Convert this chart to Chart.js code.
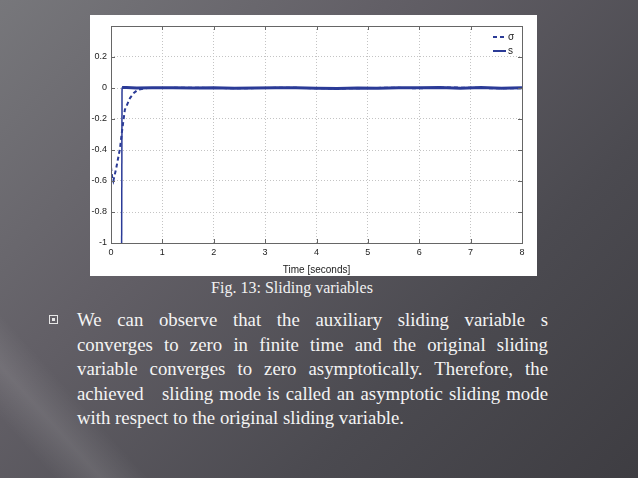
<!DOCTYPE html>
<html><head><meta charset="utf-8">
<script src="https://cdn.jsdelivr.net/npm/chart.js@4.4.1/dist/chart.umd.min.js"></script>
<style>
html,body{margin:0;padding:0;width:638px;height:478px;overflow:hidden;}
body{position:relative;background:linear-gradient(135deg,#77777b 0%,#625f66 35%,#4b4a50 70%,#3e3d42 100%);}
#streak{position:absolute;left:-120px;top:180px;width:520px;height:70px;background:linear-gradient(180deg,rgba(255,255,255,0) 0%,rgba(255,255,255,0.10) 50%,rgba(255,255,255,0) 100%);transform:rotate(48deg);transform-origin:0 0;}
#panel{position:absolute;left:90px;top:15px;width:447px;height:261px;background:#fff;}
#panel canvas{display:block;}
#cap{position:absolute;left:0;width:584px;top:279px;text-align:center;font-family:"Liberation Serif","Times New Roman",serif;font-size:16px;color:#f2f2f2;}
#bul{position:absolute;left:49px;top:315px;width:7px;height:7px;border:1px solid #e6e6e6;}
#bul i{position:absolute;left:2px;top:2px;width:3px;height:3px;background:#e6e6e6;}
#txt{position:absolute;left:77px;top:308px;width:471px;font-family:"Liberation Serif","Times New Roman",serif;font-size:18.8px;line-height:24.5px;color:#f4f4f4;}
#txt div{text-align:justify;text-align-last:justify;white-space:nowrap;}
#txt div.last{text-align-last:left;}
</style></head>
<body>
<div id="streak"></div>
<div id="panel"><canvas id="c" width="447" height="261"></canvas></div>
<div id="cap">Fig. 13: Sliding variables</div>
<div id="bul"><i></i></div>
<div id="txt">
<div>We can observe that the auxiliary sliding variable s</div>
<div>converges to zero in finite time and the original sliding</div>
<div>variable converges to zero asymptotically. Therefore, the</div>
<div>achieved&nbsp;&nbsp; sliding mode is called an asymptotic sliding mode</div>
<div class="last">with respect to the original sliding variable.</div>
</div>
<script>
// ---- data ----
const sigmaTime = [0, 0.02, 0.045, 0.1, 0.175, 0.21, 0.27, 0.37, 0.45, 0.53, 0.7, 1.0, 1.5, 2.0, 2.5, 3.0, 3.5, 4.0, 4.5, 5.0, 5.5, 6.0, 6.5, 7.0, 7.5, 8.0];
const sigmaVals = [-0.51, -0.57, -0.60, -0.52, -0.39, -0.29, -0.14, -0.065, -0.03, -0.01, 0.0, 0.0, 0.002, 0.0, -0.002, 0.0, 0.002, -0.002, -0.003, 0.0, 0.002, -0.002, 0.003, 0.002, -0.002, -0.001];
const sTime = [0.205, 0.215, 0.3, 0.5, 0.8, 1.2, 1.6, 2.0, 2.4, 2.8, 3.2, 3.6, 4.0, 4.4, 4.8, 5.2, 5.6, 6.0, 6.4, 6.8, 7.2, 7.6, 8.0];
const sVals = [-1.3, 0.004, 0.003, 0.0, 0.001, 0.002, 0.0, 0.002, -0.001, 0.0, 0.002, 0.001, -0.002, -0.003, 0.0, -0.001, 0.002, 0.001, 0.004, -0.001, 0.003, -0.002, 0.001];
const xTicks = [0, 1, 2, 3, 4, 5, 6, 7, 8];
const yTicks = [-1, -0.8, -0.6, -0.4, -0.2, 0, 0.2];
const legendLabels = ['\u03c3', 's'];
const xTitle = 'Time [seconds]';

const lineColor = '#2b3b97';
const toPts = (t, v) => t.map((x, i) => ({x: x, y: v[i]}));
const FONT = '"Liberation Sans", Arial, sans-serif';

const boxPlugin = {
  id: 'box',
  afterDraw(chart) {
    const ctx = chart.ctx, ca = chart.chartArea;
    const xs = chart.scales.x, ys = chart.scales.y;
    ctx.save();
    ctx.strokeStyle = '#666';
    ctx.lineWidth = 1;
    ctx.strokeRect(Math.round(ca.left) + 0.5, Math.round(ca.top) + 0.5, Math.round(ca.right - ca.left), Math.round(ca.bottom - ca.top));
    ctx.beginPath();
    xTicks.forEach(v => {
      const px = Math.round(xs.getPixelForValue(v)) + 0.5;
      ctx.moveTo(px, ca.bottom); ctx.lineTo(px, ca.bottom - 4);
      ctx.moveTo(px, ca.top); ctx.lineTo(px, ca.top + 4);
    });
    yTicks.forEach(v => {
      const py = Math.round(ys.getPixelForValue(v)) + 0.5;
      ctx.moveTo(ca.left, py); ctx.lineTo(ca.left + 4, py);
      ctx.moveTo(ca.right, py); ctx.lineTo(ca.right - 4, py);
    });
    ctx.stroke();
    // legend
    const ds = chart.data.datasets;
    const lx0 = ca.right - 29, lx1 = ca.right - 16;
    ds.forEach((d, i) => {
      const y = ca.top + 11 + i * 14;
      ctx.beginPath();
      ctx.strokeStyle = d.borderColor;
      ctx.lineWidth = 2;
      ctx.setLineDash(d.borderDash || []);
      ctx.moveTo(lx0, y); ctx.lineTo(lx1, y);
      ctx.stroke();
      ctx.setLineDash([]);
      ctx.fillStyle = '#222';
      ctx.font = '10px ' + FONT;
      ctx.textBaseline = 'middle';
      ctx.fillText(d.label, lx1 + 2, y);
    });
    ctx.restore();
  }
};

new Chart(document.getElementById('c'), {
  type: 'line',
  data: {
    datasets: [
      {label: legendLabels[0], data: toPts(sigmaTime, sigmaVals), borderColor: lineColor, borderWidth: 2, borderDash: [4, 3], pointRadius: 0, tension: 0, fill: false},
      {label: legendLabels[1], data: toPts(sTime, sVals), borderColor: lineColor, borderWidth: 3, pointRadius: 0, tension: 0, fill: false,
       segment: {borderWidth: c => c.p0DataIndex === 0 ? 1.5 : 3}}
    ]
  },
  options: {
    responsive: false,
    animation: false,
    events: [],
    layout: {padding: {top: 11, right: 15, left: 0, bottom: 0}},
    plugins: {legend: {display: false}, tooltip: {enabled: false}},
    scales: {
      x: {
        type: 'linear', min: 0, max: 8,
        afterBuildTicks: s => { s.ticks = xTicks.map(v => ({value: v})); },
        afterFit: s => { s.height = 33; },
        grid: {color: '#c4c4c4', drawTicks: false, lineWidth: 1},
        border: {display: false, dash: [1, 2]},
        ticks: {padding: 4, color: '#222', font: {size: 9, family: FONT}, maxRotation: 0, callback: v => String(v)},
        title: {display: true, text: xTitle, color: '#222', font: {size: 10, family: FONT}, padding: {top: 1, bottom: 0}}
      },
      y: {
        type: 'linear', min: -1, max: 0.4,
        afterBuildTicks: s => { s.ticks = yTicks.map(v => ({value: v})).concat([{value: 0.4}]); },
        afterFit: s => { s.width = 21; },
        grid: {color: c => (c.tick && c.tick.value === 0.4) ? 'rgba(0,0,0,0)' : '#c4c4c4', drawTicks: false, lineWidth: 1},
        border: {display: false, dash: [1, 2]},
        ticks: {padding: 4, color: '#222', font: {size: 9, family: FONT}, callback: v => (Math.abs(v - 0.4) < 1e-9) ? '' : String(Math.round(v * 10) / 10)}
      }
    }
  },
  plugins: [boxPlugin]
});
</script>
</body></html>
